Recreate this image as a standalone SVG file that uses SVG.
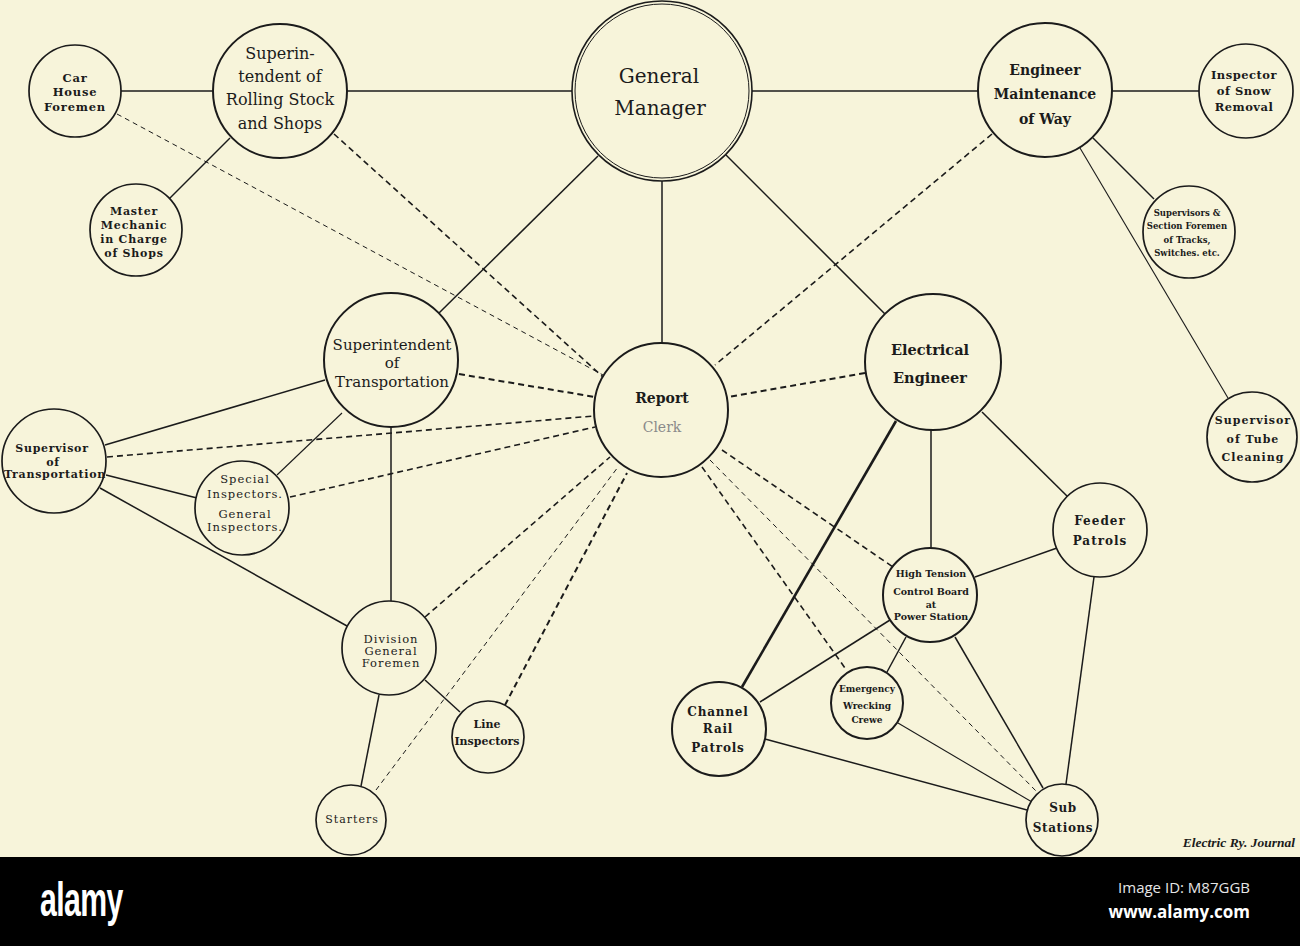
<svg xmlns="http://www.w3.org/2000/svg" width="1300" height="946" viewBox="0 0 1300 946">
<style>
.bg{fill:#f7f4da}
.n circle{fill:#f7f4da;stroke:#1b1b1b;stroke-width:2}
.n.sm circle{stroke-width:1.7}
.t{font-family:"DejaVu Serif","Liberation Serif",serif;fill:#1b1b1b;text-anchor:middle}
.b{font-weight:bold}
.s{stroke:#1b1b1b;stroke-width:1.5;fill:none}
.s.th{stroke-width:1.1}
.s.hv{stroke-width:2.6}
.d{stroke:#1b1b1b;stroke-width:1.6;stroke-dasharray:6 4;fill:none}
.d.hv{stroke-width:2}
.d.th{stroke-width:1;stroke-dasharray:5 4}
</style>
<rect class="bg" x="0" y="0" width="1300" height="946"/>
<g id="connectors">
<line class="s" x1="121" y1="91" x2="213" y2="91"/>
<line class="s" x1="347" y1="91" x2="572" y2="91"/>
<line class="s" x1="752" y1="91" x2="978" y2="91"/>
<line class="s" x1="1112" y1="91" x2="1199" y2="91"/>
<line class="s" x1="230" y1="138" x2="168" y2="200"/>
<line class="s" x1="598" y1="156" x2="439" y2="313"/>
<line class="s" x1="662" y1="181" x2="662" y2="343"/>
<line class="s" x1="726" y1="155" x2="885" y2="314"/>
<line class="s" x1="1093" y1="138" x2="1154" y2="199"/>
<line class="s th" x1="1080" y1="148" x2="1228" y2="398"/>
<line class="s" x1="105" y1="445" x2="325" y2="380"/>
<line class="s th" x1="342" y1="413" x2="277" y2="475"/>
<line class="s" x1="391" y1="427" x2="391" y2="601"/>
<line class="s" x1="106" y1="475" x2="197" y2="498"/>
<line class="s" x1="100" y1="488" x2="347" y2="626"/>
<line class="s" x1="425" y1="680" x2="460" y2="712"/>
<line class="s" x1="379" y1="695" x2="361" y2="786"/>
<line class="s" x1="931" y1="430" x2="931" y2="548"/>
<line class="s hv" x1="896" y1="421" x2="742" y2="687"/>
<line class="s" x1="982" y1="412" x2="1068" y2="497"/>
<line class="s" x1="975" y1="577" x2="1057" y2="548"/>
<line class="s" x1="890" y1="620" x2="760" y2="702"/>
<line class="s" x1="906" y1="637" x2="887" y2="672"/>
<line class="s" x1="955" y1="637" x2="1043" y2="788"/>
<line class="s" x1="1094" y1="577" x2="1066" y2="784"/>
<line class="s th" x1="898" y1="723" x2="1032" y2="802"/>
<line class="s" x1="765" y1="739" x2="1027" y2="810"/>
<line class="d th" x1="117" y1="114" x2="603" y2="375"/>
<line class="d" x1="334" y1="134" x2="603" y2="377"/>
<line class="d" x1="992" y1="134" x2="715" y2="365"/>
<line class="d hv" x1="459" y1="374" x2="595" y2="397"/>
<line class="d hv" x1="865" y1="373" x2="728" y2="397"/>
<line class="d" x1="107" y1="457" x2="594" y2="416"/>
<line class="d" x1="290" y1="497" x2="595" y2="427"/>
<line class="d" x1="425" y1="617" x2="610" y2="457"/>
<line class="d hv" x1="505" y1="705" x2="627" y2="473"/>
<line class="d th" x1="376" y1="790" x2="618" y2="467"/>
<line class="d" x1="722" y1="450" x2="893" y2="567"/>
<line class="d" x1="702" y1="467" x2="845" y2="668"/>
<line class="d th" x1="710" y1="460" x2="1037" y2="792"/>
</g>
<g id="general-manager" class="n"><circle cx="662" cy="91" r="90" style="stroke-width:1.6"/><circle cx="662" cy="91" r="87" style="stroke-width:1"/>
<text class="t" x="659" y="83" font-size="20">General</text><text class="t" x="660" y="115" font-size="20">Manager</text></g>
<g id="car-house-foremen" class="n sm"><circle cx="75" cy="91" r="46"/>
<text class="t b" font-size="11.5" letter-spacing="0.8"><tspan x="75" y="82">Car</tspan><tspan x="75" y="96">House</tspan><tspan x="75" y="111">Foremen</tspan></text></g>
<g id="supt-rolling-stock" class="n"><circle cx="280" cy="91" r="67"/>
<text class="t" font-size="16"><tspan x="280" y="59">Superin-</tspan><tspan x="280" y="82">tendent of</tspan><tspan x="280" y="105">Rolling Stock</tspan><tspan x="280" y="129">and Shops</tspan></text></g>
<g id="engineer-maintenance" class="n"><circle cx="1045" cy="90" r="67"/>
<text class="t b" font-size="14"><tspan x="1045" y="75">Engineer</tspan><tspan x="1045" y="99">Maintenance</tspan><tspan x="1045" y="124">of Way</tspan></text></g>
<g id="snow-removal" class="n sm"><circle cx="1246" cy="91" r="47"/>
<text class="t b" font-size="11.5" letter-spacing="0.5"><tspan x="1244" y="79">Inspector</tspan><tspan x="1244" y="95">of Snow</tspan><tspan x="1244" y="111">Removal</tspan></text></g>
<g id="master-mechanic" class="n sm"><circle cx="136" cy="230" r="46"/>
<text class="t b" font-size="11" letter-spacing="0.8"><tspan x="134" y="215">Master</tspan><tspan x="134" y="229">Mechanic</tspan><tspan x="134" y="243">in Charge</tspan><tspan x="134" y="257">of Shops</tspan></text></g>
<g id="section-foremen" class="n sm"><circle cx="1189" cy="232" r="46"/>
<text class="t b" font-size="8.5"><tspan x="1187" y="216">Supervisors &amp;</tspan><tspan x="1187" y="229">Section Foremen</tspan><tspan x="1187" y="243">of Tracks,</tspan><tspan x="1187" y="256">Switches. etc.</tspan></text></g>
<g id="supt-transportation" class="n"><circle cx="391" cy="360" r="67"/>
<text class="t" font-size="15"><tspan x="392" y="350">Superintendent</tspan><tspan x="392" y="368">of</tspan><tspan x="392" y="387">Transportation</tspan></text></g>
<g id="report-clerk" class="n"><circle cx="661" cy="410" r="67"/>
<text class="t b" x="662" y="403" font-size="14">Report</text><text class="t" x="662" y="432" font-size="14" style="fill:#8a8a8a">Clerk</text></g>
<g id="electrical-engineer" class="n"><circle cx="933" cy="362" r="68"/>
<text class="t b" font-size="14.5"><tspan x="930" y="355">Electrical</tspan><tspan x="930" y="383">Engineer</tspan></text></g>
<g id="tube-cleaning" class="n sm"><circle cx="1252" cy="437" r="45"/>
<text class="t" font-size="11" letter-spacing="1" style="font-weight:600"><tspan x="1253" y="424">Supervisor</tspan><tspan x="1253" y="443">of Tube</tspan><tspan x="1253" y="461">Cleaning</tspan></text></g>
<g id="supervisor-transportation" class="n sm"><circle cx="54" cy="461" r="52"/>
<text class="t b" font-size="11" letter-spacing="0.7"><tspan x="52" y="452">Supervisor</tspan><tspan x="53" y="466">of</tspan><tspan x="55" y="478">Transportation</tspan></text></g>
<g id="inspectors" class="n sm"><circle cx="242" cy="508" r="47"/>
<text class="t" font-size="11.5" letter-spacing="1"><tspan x="245" y="483">Special</tspan><tspan x="245" y="498">Inspectors.</tspan><tspan x="245" y="518">General</tspan><tspan x="245" y="531">Inspectors.</tspan></text></g>
<g id="division-foremen" class="n sm"><circle cx="389" cy="648" r="47"/>
<text class="t" font-size="11.5" letter-spacing="1"><tspan x="391" y="643">Division</tspan><tspan x="391" y="655">General</tspan><tspan x="391" y="667">Foremen</tspan></text></g>
<g id="line-inspectors" class="n sm"><circle cx="488" cy="737" r="36"/>
<text class="t b" font-size="11"><tspan x="487" y="728">Line</tspan><tspan x="487" y="745">Inspectors</tspan></text></g>
<g id="starters" class="n sm"><circle cx="351" cy="820" r="35"/>
<text class="t" x="352" y="823" font-size="11" letter-spacing="1">Starters</text></g>
<g id="high-tension" class="n"><circle cx="930" cy="595" r="47"/>
<text class="t b" font-size="9.5"><tspan x="931" y="577">High Tension</tspan><tspan x="931" y="595">Control Board</tspan><tspan x="931" y="608">at</tspan><tspan x="931" y="620">Power Station</tspan></text></g>
<g id="feeder-patrols" class="n sm"><circle cx="1100" cy="530" r="47"/>
<text class="t" font-size="12" letter-spacing="1" style="font-weight:600"><tspan x="1100" y="525">Feeder</tspan><tspan x="1100" y="545">Patrols</tspan></text></g>
<g id="emergency-crewe" class="n"><circle cx="867" cy="703" r="36"/>
<text class="t b" font-size="9"><tspan x="867" y="692">Emergency</tspan><tspan x="867" y="709">Wrecking</tspan><tspan x="867" y="723">Crewe</tspan></text></g>
<g id="channel-rail" class="n"><circle cx="719" cy="729" r="47"/>
<text class="t b" font-size="12" letter-spacing="0.8"><tspan x="718" y="716">Channel</tspan><tspan x="718" y="733">Rail</tspan><tspan x="718" y="752">Patrols</tspan></text></g>
<g id="sub-stations" class="n sm"><circle cx="1062" cy="820" r="36"/>
<text class="t b" font-size="12" letter-spacing="0.6"><tspan x="1063" y="812">Sub</tspan><tspan x="1063" y="832">Stations</tspan></text></g>
<text x="1295" y="847" font-family="Liberation Serif,serif" font-style="italic" font-weight="bold" font-size="13.5" text-anchor="end" fill="#1b1b1b">Electric Ry. Journal</text>
<rect x="0" y="857" width="1300" height="89" fill="#000"/>
<text x="40" y="916" font-family="Liberation Sans,sans-serif" font-weight="bold" font-size="48" fill="#fff" transform="translate(40 0) scale(0.63 1) translate(-40 0)" letter-spacing="-1">alamy</text>
<text x="1250" y="893" font-family="Open Sans,sans-serif" font-size="15" fill="#e6e6e6" text-anchor="end">Image ID: M87GGB</text>
<text x="1250" y="918" font-family="Open Sans,sans-serif" font-weight="bold" font-size="17" fill="#fff" text-anchor="end">www.alamy.com</text>
</svg>
